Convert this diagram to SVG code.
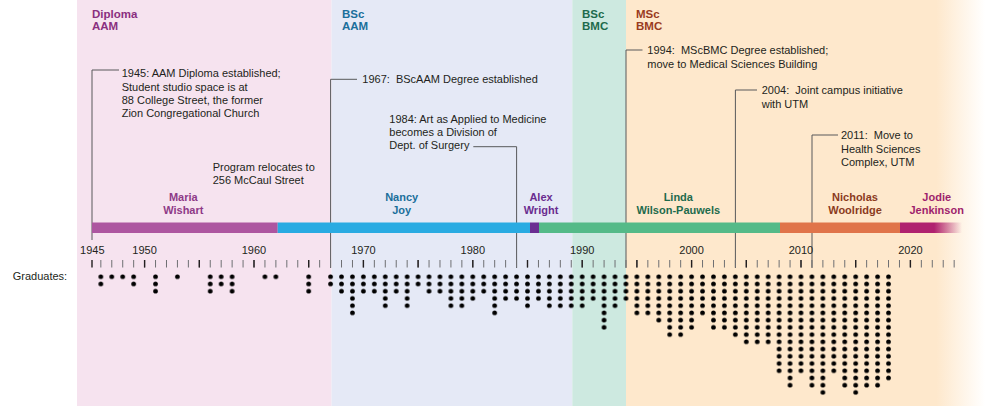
<svg xmlns="http://www.w3.org/2000/svg" width="1000" height="408" viewBox="0 0 1000 408">
<style>
.hd{font-family:"Liberation Sans",Arial,sans-serif;font-size:11.5px;font-weight:bold}
.nm{font-family:"Liberation Sans",Arial,sans-serif;font-size:11px;font-weight:bold;text-anchor:middle}
.an{font-family:"Liberation Sans",Arial,sans-serif;font-size:11px;fill:#231f20}
.yr{font-family:"Liberation Sans",Arial,sans-serif;font-size:11px;fill:#231f20;text-anchor:middle}
.ln{fill:none;stroke:#58595b;stroke-width:1}
</style>
<defs>
<linearGradient id="peach" gradientUnits="userSpaceOnUse" x1="626" y1="0" x2="1000" y2="0">
<stop offset="0" stop-color="#fee8cc"/>
<stop offset="0.83" stop-color="#fee8cc"/>
<stop offset="0.96" stop-color="#ffffff"/>
<stop offset="1" stop-color="#ffffff"/>
</linearGradient>
<linearGradient id="jodie" gradientUnits="userSpaceOnUse" x1="900" y1="0" x2="962" y2="0">
<stop offset="0" stop-color="#b0226f"/>
<stop offset="0.55" stop-color="#b0226f"/>
<stop offset="1" stop-color="#b0226f" stop-opacity="0"/>
</linearGradient>
<pattern id="dots" patternUnits="userSpaceOnUse" x="84.43" y="273.085" width="10.94" height="7.23">
<circle cx="5.47" cy="3.615" r="2.35" fill="#000"/>
</pattern>
<pattern id="tk" patternUnits="userSpaceOnUse" x="84.43" y="260" width="10.94" height="8">
<line x1="5.47" y1="0" x2="5.47" y2="7.5" stroke="#6d6e71" stroke-width="1"/>
</pattern>
</defs>

<g id="backgrounds">
<rect x="77" y="0" width="254.6" height="406" fill="#f6e3ef"/>
<rect x="331.6" y="0" width="240.7" height="406" fill="#e5e9f6"/>
<rect x="572.3" y="0" width="53.7" height="406" fill="#cde9e0"/>
<rect x="626" y="0" width="374" height="406" fill="url(#peach)"/>
</g>

<g id="era-headers">
<text class="hd" fill="#8a2f80"><tspan x="92" y="17.5">Diploma</tspan><tspan x="92" y="29.5">AAM</tspan></text>
<text class="hd" fill="#1a6f9b"><tspan x="342" y="17.5">BSc</tspan><tspan x="342" y="29.5">AAM</tspan></text>
<text class="hd" fill="#1d6b4c"><tspan x="582" y="17.5">BSc</tspan><tspan x="582" y="29.5">BMC</tspan></text>
<text class="hd" fill="#9a3b1e"><tspan x="636" y="17.5">MSc</tspan><tspan x="636" y="29.5">BMC</tspan></text>
</g>

<g id="connectors">
<path class="ln" d="M119 70H92V240"/>
<path class="ln" d="M357 79.3H330.6V268"/>
<path class="ln" d="M473.3 146.7H516.6V268"/>
<path class="ln" d="M642.5 50H626V268"/>
<path class="ln" d="M757 90H735.4V268"/>
<path class="ln" d="M838 135H812V268"/>
</g>

<g id="event-1945">
<text class="an"><tspan x="121.7" y="77.3">1945: AAM Diploma established;</tspan><tspan x="121.7" y="90.7">Student studio space is at</tspan><tspan x="121.7" y="104">88 College Street, the former</tspan><tspan x="121.7" y="117.3">Zion Congregational Church</tspan></text>
</g>
<g id="event-1967">
<text class="an" x="362.3" y="83.3" xml:space="preserve">1967:  BScAAM Degree established</text>
</g>
<g id="event-1984">
<text class="an"><tspan x="389.3" y="122.7">1984: Art as Applied to Medicine</tspan><tspan x="389.3" y="136">becomes a Division of</tspan><tspan x="389.3" y="149.3">Dept. of Surgery</tspan></text>
</g>
<g id="event-1994">
<text class="an" xml:space="preserve"><tspan x="647.3" y="54.3">1994:  MScBMC Degree established;</tspan><tspan x="647.3" y="67.7">move to Medical Sciences Building</tspan></text>
</g>
<g id="event-2004">
<text class="an" xml:space="preserve"><tspan x="761.7" y="94.3">2004:  Joint campus initiative</tspan><tspan x="761.7" y="107.7">with UTM</tspan></text>
</g>
<g id="event-2011">
<text class="an" xml:space="preserve"><tspan x="841" y="139.3">2011:  Move to</tspan><tspan x="841" y="152.7">Health Sciences</tspan><tspan x="841" y="166">Complex, UTM</tspan></text>
</g>
<g id="event-mccaul">
<text class="an"><tspan x="212.7" y="171">Program relocates to</tspan><tspan x="212.7" y="184.3">256 McCaul Street</tspan></text>
</g>

<g id="directors">
<text class="nm" fill="#8e3a87"><tspan x="183.3" y="201">Maria</tspan><tspan x="183.3" y="213.5">Wishart</tspan></text>
<text class="nm" fill="#1b6f9b"><tspan x="401.7" y="201">Nancy</tspan><tspan x="401.7" y="213.5">Joy</tspan></text>
<text class="nm" fill="#6a2d8f"><tspan x="541" y="201">Alex</tspan><tspan x="541" y="213.5">Wright</tspan></text>
<text class="nm" fill="#1e6b4c"><tspan x="678.3" y="201">Linda</tspan><tspan x="678.3" y="213.5">Wilson-Pauwels</tspan></text>
<text class="nm" fill="#8b3b1e"><tspan x="855" y="201">Nicholas</tspan><tspan x="855" y="213.5">Woolridge</tspan></text>
<text class="nm" fill="#9e1f6c"><tspan x="936.7" y="201">Jodie</tspan><tspan x="936.7" y="213.5">Jenkinson</tspan></text>
</g>

<g id="director-bar">
<rect x="92" y="222.5" width="185.7" height="10.5" fill="#ad56a0"/>
<rect x="277.7" y="222.5" width="252.3" height="10.5" fill="#29abe2"/>
<rect x="530" y="222.5" width="9" height="10.5" fill="#6b2e92"/>
<rect x="539" y="222.5" width="241" height="10.5" fill="#54ba88"/>
<rect x="780" y="222.5" width="120" height="10.5" fill="#e0744a"/>
<rect x="900" y="222.5" width="62" height="10.5" fill="url(#jodie)"/>
</g>

<g id="axis">
<text class="yr" x="92.3" y="253.5">1945</text>
<text class="yr" x="144.6" y="253.5">1950</text>
<text class="yr" x="254" y="253.5">1960</text>
<text class="yr" x="363.4" y="253.5">1970</text>
<text class="yr" x="472.8" y="253.5">1980</text>
<text class="yr" x="582.2" y="253.5">1990</text>
<text class="yr" x="691.6" y="253.5">2000</text>
<text class="yr" x="801" y="253.5">2010</text>
<text class="yr" x="910.4" y="253.5">2020</text>
<rect x="95.37" y="260" width="864.26" height="8" fill="url(#tk)"/>
<path d="M92 260v7.5M144.6 260v7.5M199.3 260v7.5M254 260v7.5M308.7 260v7.5M363.4 260v7.5M418.1 260v7.5M472.8 260v7.5M527.5 260v7.5M582.2 260v7.5M636.9 260v7.5M691.6 260v7.5M746.3 260v7.5M801 260v7.5M855.7 260v7.5M910.4 260v7.5" stroke="#231f20" stroke-width="1.4" fill="none"/>
</g>

<g id="graduates">
<text class="an" x="12.7" y="280">Graduates:</text>
<g fill="url(#dots)">
<rect x="95.37" y="273.085" width="10.94" height="14.46"/>
<rect x="106.31" y="273.085" width="10.94" height="7.23"/>
<rect x="117.25" y="273.085" width="10.94" height="7.23"/>
<rect x="128.19" y="273.085" width="10.94" height="14.46"/>
<rect x="150.07" y="273.085" width="10.94" height="21.69"/>
<rect x="171.95" y="273.085" width="10.94" height="7.23"/>
<rect x="204.77" y="273.085" width="10.94" height="21.69"/>
<rect x="215.71" y="273.085" width="10.94" height="14.46"/>
<rect x="226.65" y="273.085" width="10.94" height="21.69"/>
<rect x="259.47" y="273.085" width="10.94" height="7.23"/>
<rect x="270.41" y="273.085" width="10.94" height="7.23"/>
<rect x="303.23" y="273.085" width="10.94" height="21.69"/>
<rect x="325.11" y="273.085" width="10.94" height="14.46"/>
<rect x="336.05" y="273.085" width="10.94" height="21.69"/>
<rect x="346.99" y="273.085" width="10.94" height="43.38"/>
<rect x="357.93" y="273.085" width="10.94" height="21.69"/>
<rect x="368.87" y="273.085" width="10.94" height="21.69"/>
<rect x="379.81" y="273.085" width="10.94" height="36.15"/>
<rect x="390.75" y="273.085" width="10.94" height="21.69"/>
<rect x="401.69" y="273.085" width="10.94" height="36.15"/>
<rect x="412.63" y="273.085" width="10.94" height="14.46"/>
<rect x="423.57" y="273.085" width="10.94" height="21.69"/>
<rect x="434.51" y="273.085" width="10.94" height="21.69"/>
<rect x="445.45" y="273.085" width="10.94" height="36.15"/>
<rect x="456.39" y="273.085" width="10.94" height="36.15"/>
<rect x="467.33" y="273.085" width="10.94" height="28.92"/>
<rect x="478.27" y="273.085" width="10.94" height="21.69"/>
<rect x="489.21" y="273.085" width="10.94" height="43.38"/>
<rect x="500.15" y="273.085" width="10.94" height="28.92"/>
<rect x="511.09" y="273.085" width="10.94" height="28.92"/>
<rect x="522.03" y="273.085" width="10.94" height="36.15"/>
<rect x="532.97" y="273.085" width="10.94" height="28.92"/>
<rect x="543.91" y="273.085" width="10.94" height="36.15"/>
<rect x="554.85" y="273.085" width="10.94" height="36.15"/>
<rect x="565.79" y="273.085" width="10.94" height="36.15"/>
<rect x="576.73" y="273.085" width="10.94" height="36.15"/>
<rect x="587.67" y="273.085" width="10.94" height="28.92"/>
<rect x="598.61" y="273.085" width="10.94" height="57.84"/>
<rect x="609.55" y="273.085" width="10.94" height="36.15"/>
<rect x="620.49" y="273.085" width="10.94" height="28.92"/>
<rect x="631.43" y="273.085" width="10.94" height="43.38"/>
<rect x="642.37" y="273.085" width="10.94" height="43.38"/>
<rect x="653.31" y="273.085" width="10.94" height="50.61"/>
<rect x="664.25" y="273.085" width="10.94" height="65.07"/>
<rect x="675.19" y="273.085" width="10.94" height="65.07"/>
<rect x="686.13" y="273.085" width="10.94" height="57.84"/>
<rect x="697.07" y="273.085" width="10.94" height="43.38"/>
<rect x="708.01" y="273.085" width="10.94" height="57.84"/>
<rect x="718.95" y="273.085" width="10.94" height="57.84"/>
<rect x="729.89" y="273.085" width="10.94" height="65.07"/>
<rect x="740.83" y="273.085" width="10.94" height="72.3"/>
<rect x="751.77" y="273.085" width="10.94" height="72.3"/>
<rect x="762.71" y="273.085" width="10.94" height="72.3"/>
<rect x="773.65" y="273.085" width="10.94" height="101.22"/>
<rect x="784.59" y="273.085" width="10.94" height="115.68"/>
<rect x="795.53" y="273.085" width="10.94" height="101.22"/>
<rect x="806.47" y="273.085" width="10.94" height="115.68"/>
<rect x="817.41" y="273.085" width="10.94" height="122.91"/>
<rect x="828.35" y="273.085" width="10.94" height="101.22"/>
<rect x="839.29" y="273.085" width="10.94" height="115.68"/>
<rect x="850.23" y="273.085" width="10.94" height="122.91"/>
<rect x="861.17" y="273.085" width="10.94" height="115.68"/>
<rect x="872.11" y="273.085" width="10.94" height="115.68"/>
<rect x="883.05" y="273.085" width="10.94" height="108.45"/>
</g>
</g>
</svg>
